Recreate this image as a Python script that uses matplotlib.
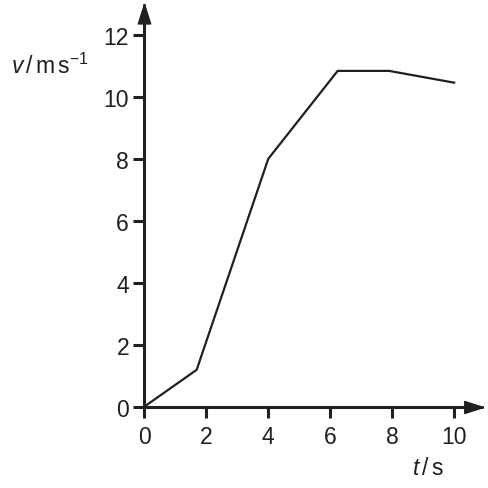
import matplotlib
matplotlib.use('Agg')
import matplotlib.pyplot as plt

plt.rcParams['font.family'] = ['Liberation Sans', 'DejaVu Sans']
plt.rcParams['mathtext.fontset'] = 'custom'
plt.rcParams['mathtext.rm'] = 'Liberation Sans'
plt.rcParams['mathtext.it'] = 'Liberation Sans:italic'

# 速度-时间数据
t = [0, 1.69, 4.0, 6.24, 7.9, 10.0]
v = [0, 1.19, 8.0, 10.84, 10.84, 10.46]
xticks = [0, 2, 4, 6, 8, 10]
yticks = [0, 2, 4, 6, 8, 10, 12]

ink = '#231f20'

fig = plt.figure(figsize=(4.88, 4.89), dpi=100)
ax = fig.add_axes([0.2957, 0.1663, 0.694, 0.8235])

ax.plot(t, v, color=ink, lw=1.6, solid_joinstyle='miter', clip_on=False)

ax.set_xlim(0, 10.93)
ax.set_ylim(0, 13.0)
ax.set_xticks(xticks)
ax.set_yticks(yticks)

for s in ['top', 'right']:
    ax.spines[s].set_visible(False)
for s in ['left', 'bottom']:
    ax.spines[s].set_linewidth(2.2)
    ax.spines[s].set_color(ink)
    ax.spines[s].set_capstyle('butt')

ax.tick_params(axis='both', direction='out', length=8, width=2.2,
               color=ink, labelcolor=ink, labelsize=16.5)
ax.tick_params(axis='y', pad=3)
ax.tick_params(axis='x', pad=5)

# 坐标轴箭头 (细长三角形)
up = [(0, 0), (-0.32, -1), (0.32, -1), (0, 0)]
right = [(0, 0), (-1, -0.32), (-1, 0.32), (0, 0)]
ax.plot(1, 0, marker=right, color=ink, markersize=27, transform=ax.transAxes, clip_on=False)
ax.plot(0, 1, marker=up, color=ink, markersize=28, transform=ax.transAxes, clip_on=False)

fig.text(11 / 488, 1 - 66 / 489, r'$v\,/\,\mathrm{m\,s^{-1}}$', fontsize=16.5,
         color=ink, ha='left', va='center')
fig.text(428 / 488, 1 - 469 / 489, r'$t\,/\,\mathrm{s}$', fontsize=16.5,
         color=ink, ha='center', va='center')

plt.savefig('out.png', dpi=100)
